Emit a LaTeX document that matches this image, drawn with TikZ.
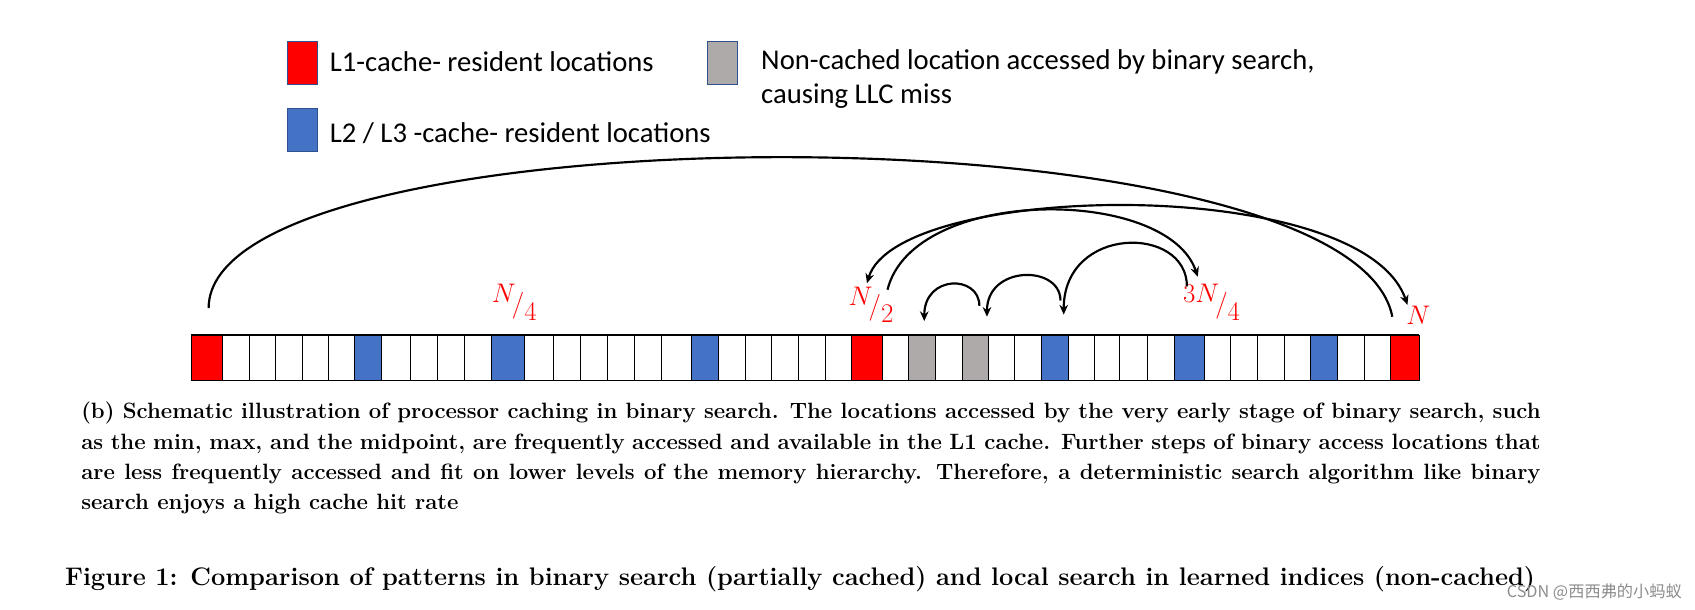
\documentclass[tikz,border=0pt]{standalone}
\usepackage{fontspec}
\newfontfamily\carl{Carlito}
\newfontfamily\cjk{Noto Sans CJK SC}
\usetikzlibrary{arrows.meta}
\begin{document}
\begin{tikzpicture}[x=1pt,y=-1pt,
  leg/.style={draw={rgb,255:red,47;green,82;blue,143},line width=0.8pt,minimum width=28pt,minimum height=40pt,inner sep=0pt},
  legtxt/.style={anchor=west,font=\carl\fontsize{26.5}{30}\selectfont,inner sep=0pt},
  arc/.style={line width=2pt},
  arr/.style={arc,-{Stealth[length=9pt,width=8pt]}},
  lab/.style={text=red,font=\fontsize{33}{36}\selectfont}]
\definecolor{bl}{RGB}{68,114,196}
\definecolor{gr}{RGB}{174,170,170}
\useasboundingbox (0,0) rectangle (1568,564);
% legend
\node[leg,fill=red] (l1) at (280,58) {};
\node[legtxt] (t1) at (305,57) {L1-cache- resident locations};
\node[leg,fill=gr] (l3) at (668,58) {};
\node[legtxt] (t3) at (704,57) {Non-cached location accessed by binary search,};
\node[legtxt] (t3b) at (704,89) {causing LLC miss};
\node[leg,fill=bl] (l2) at (280,120) {};
\node[legtxt] (t2) at (305,123) {L2 / L3 -cache- resident locations};
% array
\def\xs{177,206,231,255,280,304,328,353,380,405,430,455,485,512,537,562,587,612,640,665,690,714,739,764,788,816,840,865,890,914,938,963,988,1012,1036,1061,1086,1114,1138,1163,1188,1212,1237,1262,1286,1313}
\foreach \a/\b/\c in {177/206/red,328/353/bl,455/485/bl,640/665/bl,788/816/red,840/865/gr,890/914/gr,963/988/bl,1086/1114/bl,1212/1237/bl,1286/1313/red}
  \fill[\c] (\a,310) rectangle (\b,352);
\foreach \x in \xs \draw[line width=0.8pt] (\x,310) -- (\x,352);
\draw[line width=1.4pt] (177,310) -- (1313,310) (177,352) -- (1313,352);
% labels
\node[lab] (q1) at (476,280) {$^{N}\!\Big/_{4}$};
\node[lab] (q2) at (806,282) {$^{N}\!\Big/_{2}$};
\node[lab] (q3) at (1121,280) {$^{3N}\!\Big/_{4}$};
\node[lab] (q4) at (1312,292) {$N$};
% arc end points
\coordinate (a0) at (193,285); \coordinate (a1) at (1288,293);
\coordinate (b0) at (802,262); \coordinate (b1) at (1302,282);
\coordinate (c0) at (821,268); \coordinate (c1) at (1108,256);
\coordinate (d0) at (1098,265); \coordinate (d1) at (984,291);
\coordinate (e0) at (981,278); \coordinate (e1) at (913,293);
\coordinate (f0) at (906,283); \coordinate (f1) at (855,297);
\draw[arc] (a0) .. controls (193,100) and (1250,95) .. (a1);
\draw[arc,{Stealth[length=9pt,width=8pt]}-{Stealth[length=9pt,width=8pt]}] (b0) .. controls (830,168) and (1260,160) .. (b1);
\draw[arr] (c0) .. controls (845,172) and (1080,172) .. (c1);
\draw[arr] (d0) .. controls (1098,208) and (984,208) .. (d1);
\draw[arr] (e0) .. controls (981,245) and (913,245) .. (e1);
\draw[arr] (f0) .. controls (906,254) and (855,254) .. (f1);
% captions
\node[anchor=north west,inner sep=0pt,text width=1350pt,align=justify,font=\bfseries\fontsize{20.5}{28}\selectfont] (cap) at (75,372)
{(b) Schematic illustration of processor caching in binary search. The locations accessed by the very early stage of binary search, such as the min, max, and the midpoint, are frequently accessed and available in the L1 cache. Further steps of binary access locations that are less frequently accessed and fit on lower levels of the memory hierarchy. Therefore, a deterministic search algorithm like binary search enjoys a high cache hit rate};
\node[anchor=west,inner sep=0pt,font=\bfseries\fontsize{23.5}{28}\selectfont] (fig) at (60,536) {Figure 1: Comparison of patterns in binary search (partially cached) and local search in learned indices (non-cached)};
\node[anchor=east,inner sep=0pt,text=black!45,font=\cjk\fontsize{15}{18}\selectfont] (wm) at (1556,548) {CSDN @西西弗的小蚂蚁};
\end{tikzpicture}
\end{document}
